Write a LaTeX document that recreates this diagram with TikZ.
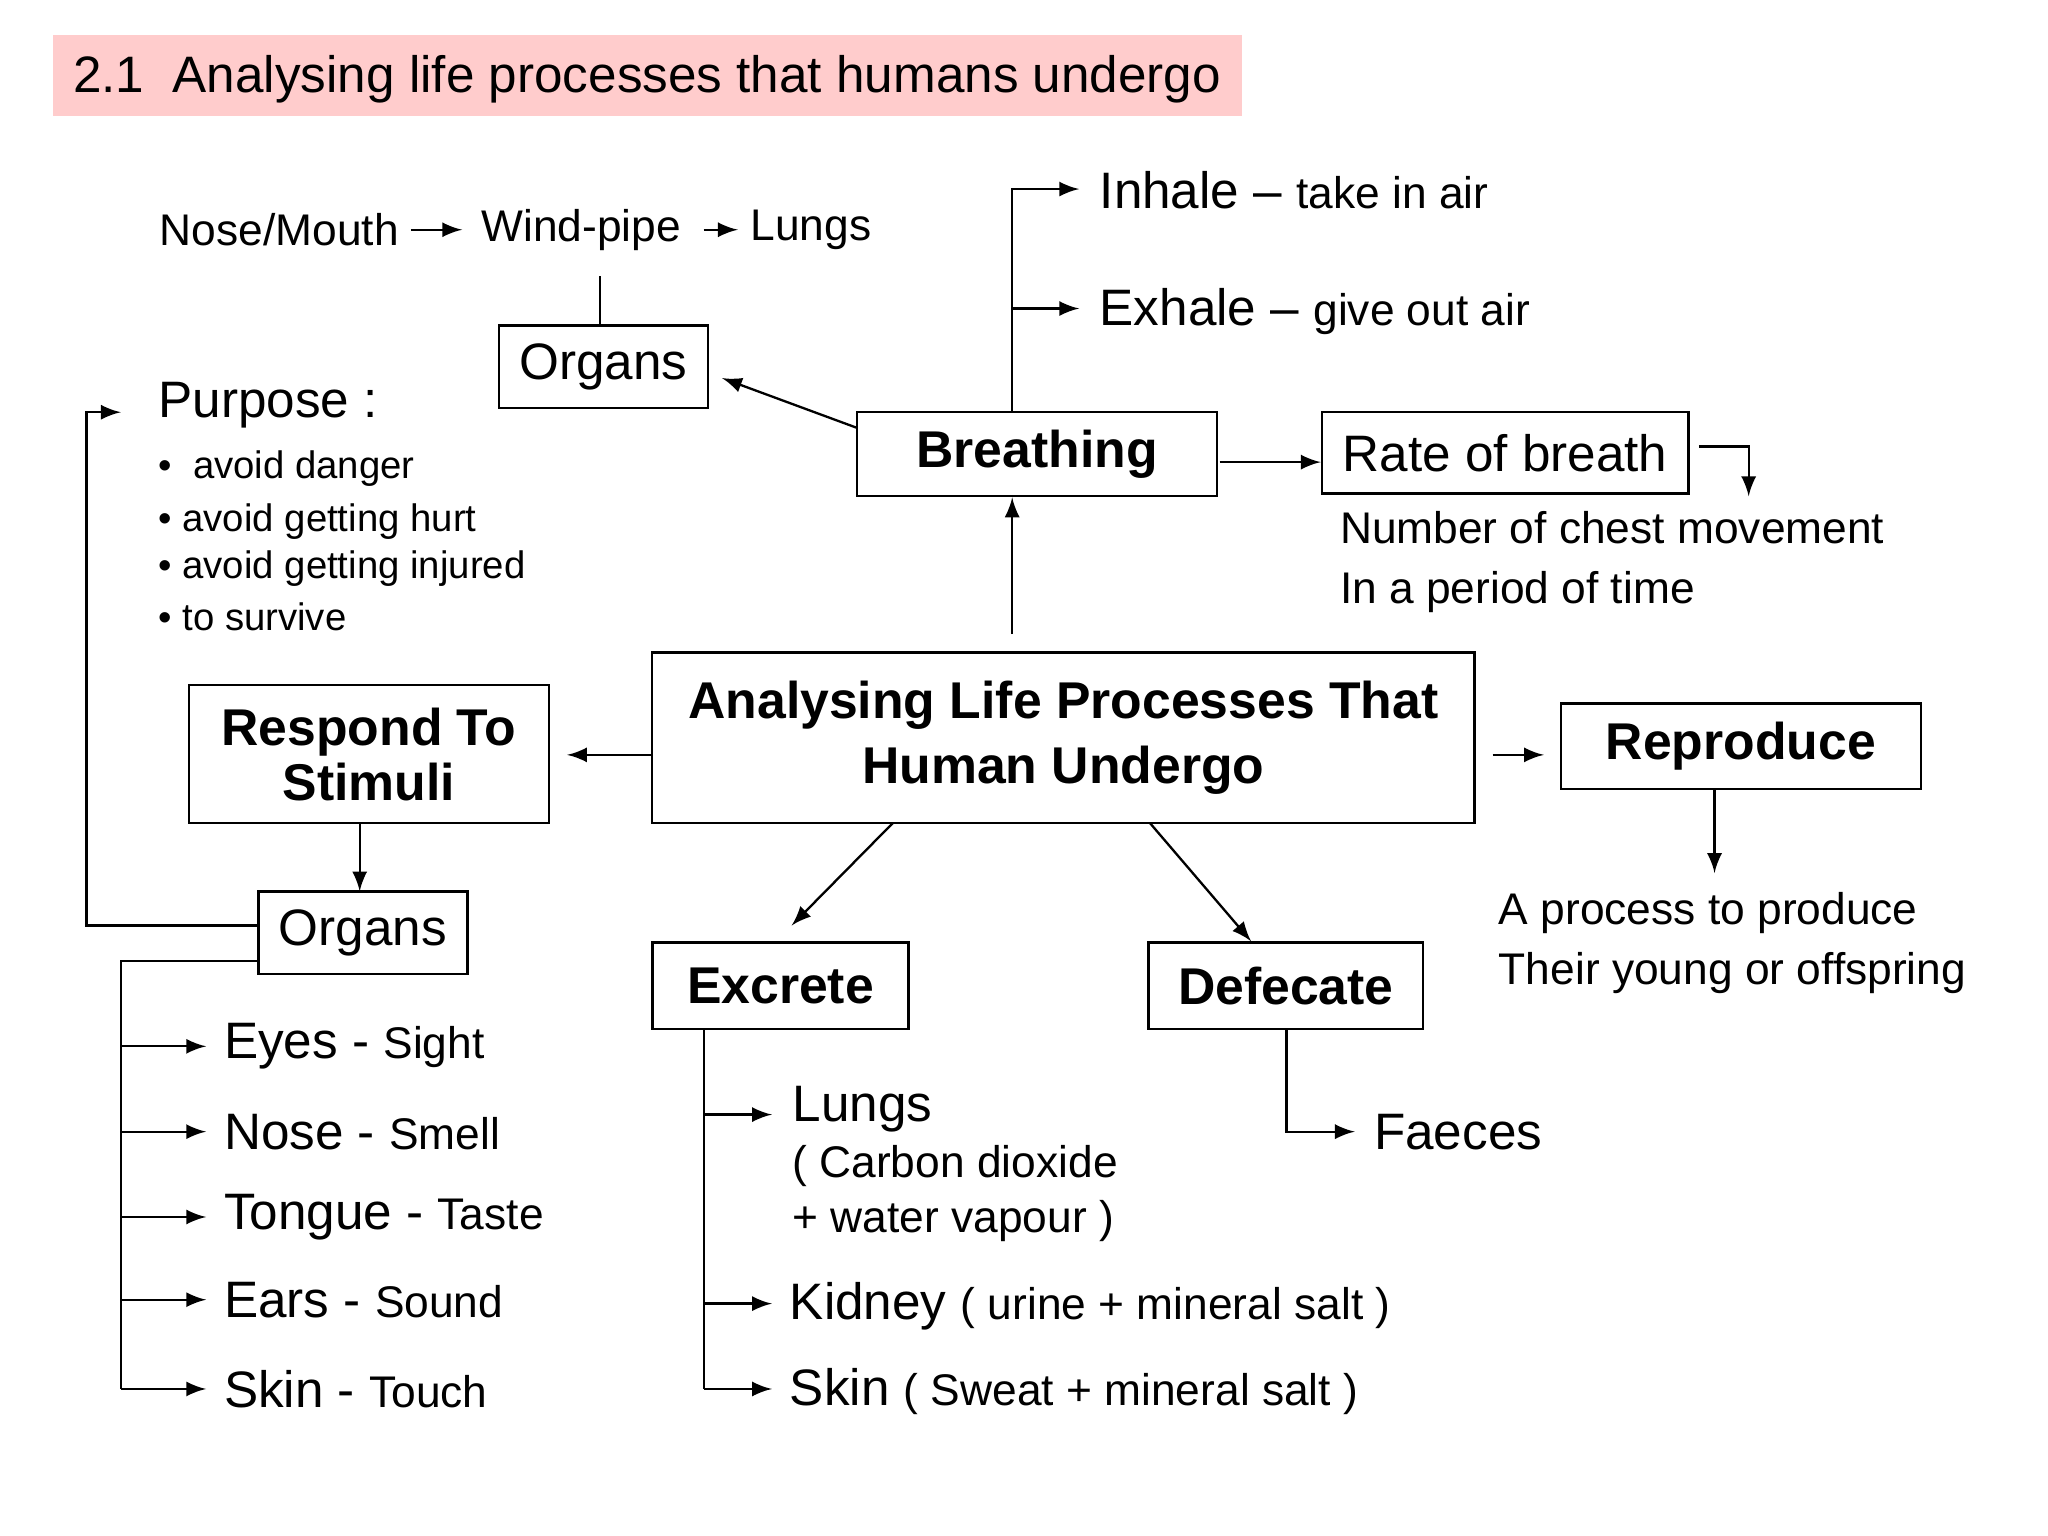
\documentclass[tikz,border=0pt]{standalone}
\usepackage{fontspec}
\setmainfont{Liberation Sans}
\usetikzlibrary{arrows,positioning}
\tikzset{>=latex}
\definecolor{titlepink}{RGB}{255,204,204}
\tikzset{
  box/.style={draw, line width=0.5pt, inner sep=0pt, align=center},
  lbl/.style={anchor=west, inner sep=0pt, align=left},
  conn/.style={->, line width=0.5pt},
}
\newcommand{\lgtxt}{\fontsize{11.1}{13.3}\selectfont}
\newcommand{\mdtxt}{\fontsize{9.6}{11.8}\selectfont}
\newcommand{\smtxt}{\fontsize{8.3}{10.5}\selectfont}
\newcommand{\bbtxt}{\fontsize{11.2}{13.5}\selectfont\bfseries}
\begin{document}
\begin{tikzpicture}[x=0.01cm, y=-0.01cm]
\useasboundingbox (0,0) rectangle (1560,1170);
% title
\fill[titlepink] (40,27) rectangle (946,88);
\node[lbl] (title) at (55,60) {\lgtxt 2.1\ \ Analysing life processes that humans undergo};

% breathing part
\node[lbl] (nose) at (121,175) {\mdtxt Nose/Mouth};
\node[lbl] (wind) at (366,175) {\mdtxt Wind-pipe};
\node[lbl] (lung) at (571,175) {\mdtxt Lungs};
\draw[conn] (313,175) -- (352,175);
\draw[conn] (536,175) -- (562,175);
\node[box, minimum width=1.59cm, minimum height=0.63cm] (organsA) at (459.5,279.5) {\lgtxt Organs};
\draw[line width=0.5pt] (organsA.north -| 457,0) -- (457,210);
\node[box, minimum width=2.74cm, minimum height=0.64cm] (breath) at (790,346) {\bbtxt Breathing};
\draw[conn] (653,326) -- (550,288);
\coordinate (top) at (771,144);
\node[lbl] (inhale) at (837,145) {\lgtxt Inhale -- {\mdtxt take in air}};
\node[lbl] (exhale) at (837,237) {\lgtxt Exhale -- {\mdtxt give out air}};
\draw[conn] (breath.north -| top) -- (top) -- (822,144);
\draw[conn] (771,235) -- (822,235);
\node[box, minimum width=2.79cm, minimum height=0.62cm] (rate) at (1146.5,345) {\lgtxt Rate of breath};
\draw[conn] (929,352) -- (rate.west |- 0,352);
\draw[conn] (1294,340) -- (1332,340) -- (1332,378);
\node[lbl] (chest) at (1020,428) {\mdtxt Number of chest movement\\[1pt]\mdtxt In a period of time};

% main
\node[box, minimum width=6.26cm, minimum height=1.30cm] (main) at (810,562)
  {\bbtxt Analysing Life Processes That\\[2pt]\bbtxt Human Undergo};
\draw[conn] (771,483) -- (breath.south -| 771,0);
\node[box, minimum width=2.74cm, minimum height=1.05cm] (respond) at (281,574.5)
  {\bbtxt Respond To\\\bbtxt Stimuli};
\draw[conn] (main.west |- 0,575) -- (432,575);
\node[box, minimum width=2.74cm, minimum height=0.65cm] (repro) at (1326,568.5) {\bbtxt Reproduce};
\draw[conn] (1137,575) -- (1176,575);
\draw[conn] (repro.south -| 1306,0) -- (1306,665);
\node[lbl] (proc) at (1141,718) {\mdtxt A process to produce\\[1pt]\mdtxt Their young or offspring};
\node[box, minimum width=1.95cm, minimum height=0.66cm] (excrete) at (594.5,751) {\bbtxt Excrete};
\node[box, minimum width=2.09cm, minimum height=0.66cm] (defec) at (979.5,751) {\bbtxt Defecate};
\draw[conn] (680,627) -- (603,705);
\draw[conn] (876,627) -- (953,717);

% respond to stimuli
\node[box, minimum width=1.59cm, minimum height=0.63cm] (organsB) at (276.5,710.5) {\lgtxt Organs};
\draw[conn] (274,627) -- (274,679);
\draw[conn] (197,705) -- (66,705) -- (66,314) -- (92,314);
\node[lbl] (purpose) at (120,309) {\lgtxt Purpose :};
\node[lbl] at (120,357) {\smtxt \textbullet\ \ avoid danger};
\foreach \t/\y in {avoid getting hurt/397, avoid getting injured/433, to survive/470}
  \node[lbl] at (120,\y) {\smtxt \textbullet\ \t};
\draw[line width=0.5pt] (197,732) -- (92,732) -- (92,1058);
\foreach \o/\s/\y in {Eyes/Sight/797, Nose/Smell/862, Tongue/Taste/927, Ears/Sound/990, Skin/Touch/1058}{
  \draw[conn] (92,\y) -- (157,\y);
  \node[lbl] at (170,\y) {\lgtxt \o\ - {\mdtxt \s}};
}

% excrete
\draw[line width=0.5pt] (excrete.south -| 536,0) -- (536,1058);
\foreach \y in {849,993,1058} \draw[conn] (536,\y) -- (588,\y);
\node[lbl] (exlung) at (603,845) {\lgtxt Lungs};
\node[lbl] at (603,888) {\mdtxt ( Carbon dioxide};
\node[lbl] at (603,930) {\mdtxt + water vapour )};
\node[lbl] (kidney) at (601,995) {\lgtxt Kidney {\mdtxt ( urine + mineral salt )}};
\node[lbl] (skin) at (601,1060) {\lgtxt Skin {\mdtxt ( Sweat + mineral salt )}};

% defecate
\draw[conn] (defec.south -| 980,0) -- (980,862) -- (1032,862);
\node[lbl] (faeces) at (1046,862) {\lgtxt Faeces};
\end{tikzpicture}
\end{document}
